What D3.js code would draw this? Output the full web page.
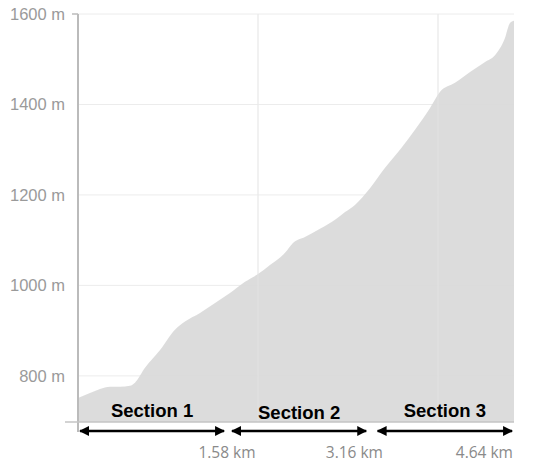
<!DOCTYPE html><html><head><meta charset="utf-8"><script src="https://cdn.jsdelivr.net/npm/d3@7"></script>
<style>body{margin:0;background:#fff}</style></head><body><svg id="c" width="550" height="465"></svg>
<script>
const distKm=[0,0.105,0.193,0.281,0.369,0.456,0.500,0.588,0.720,0.851,0.939,1.071,1.203,1.334,1.466,1.580,1.685,1.817,1.887,1.992,2.124,2.256,2.344,2.431,2.563,2.695,2.826,2.958,3.090,3.178,3.309,3.441,3.573,3.660,3.748,3.792,3.827];
const elevM=[751,762,771,776,776,778,785,818,857,902,920,939,961,983,1008,1025,1045,1072,1094,1107,1125,1145,1162,1178,1215,1260,1300,1344,1392,1428,1448,1472,1494,1509,1547,1580,1585];
const yTicks=[800,1000,1200,1400,1600];
const gridX=[1.58,3.16];
const xTickPos=[1.559,2.677,3.818];
const xTickLabels=["1.58 km","3.16 km","4.64 km"];
const sections=["Section 1","Section 2","Section 3"];
const sectionStart=[0.018,1.352,2.63];
const sectionEnd=[1.282,2.53,3.81];
const svg=d3.select("#c");
const x=d3.scaleLinear().domain([0,3.827]).range([78,514]);
const y=d3.scaleLinear().domain([698,1600]).range([422,14]);
const g=svg.append("g");
g.selectAll(".hg").data(yTicks).join("line").attr("x1",78).attr("x2",514).attr("y1",d=>y(d)).attr("y2",d=>y(d)).attr("stroke","#ececec");
g.selectAll(".vg").data(gridX).join("line").attr("x1",d=>x(d)).attr("x2",d=>x(d)).attr("y1",14).attr("y2",422).attr("stroke","#ececec");
const data=distKm.map((d,i)=>[d,elevM[i]]);
g.append("path").datum(data).attr("fill","#d9d9d9").attr("fill-opacity",0.92)
 .attr("d",d3.area().x(d=>x(d[0])).y0(422).y1(d=>y(d[1])).curve(d3.curveMonotoneX));
g.selectAll(".vg2").data(gridX).join("line").attr("x1",d=>x(d)).attr("x2",d=>x(d)).attr("y1",14).attr("y2",422).attr("stroke","#e8e8e8").attr("stroke-opacity",0.6);
g.append("line").attr("x1",78).attr("x2",78).attr("y1",14).attr("y2",432).attr("stroke","#bbb").attr("stroke-width",2);
g.append("line").attr("x1",72).attr("x2",78).attr("y1",14).attr("y2",14).attr("stroke","#bbb").attr("stroke-width",1.5);
g.append("line").attr("x1",65).attr("x2",514).attr("y1",422).attr("y2",422).attr("stroke","#c4c4c4").attr("stroke-width",1.5);
g.selectAll(".yl").data(yTicks).join("text").attr("x",65).attr("y",d=>y(d)+6).attr("text-anchor","end")
 .attr("font-family","Liberation Sans, Arial").attr("font-size",16.5).attr("fill","#9a9a9a").text(d=>d+" m");
g.selectAll(".xl").data(xTickPos).join("text").attr("x",d=>x(d)).attr("y",458).attr("text-anchor","end")
 .attr("font-family","Open Sans, sans-serif").attr("font-size",15.5).attr("fill","#8a8a8a").text((d,i)=>xTickLabels[i]);
const defs=svg.append("defs");
defs.append("marker").attr("id","ah").attr("viewBox","0 0 10 10").attr("refX",9).attr("refY",5).attr("markerWidth",4).attr("markerHeight",4).attr("orient","auto-start-reverse")
 .append("path").attr("d","M0,0L10,5L0,10z").attr("fill","#000");
sections.forEach((s,i)=>{
 const a=x(sectionStart[i]),b=x(sectionEnd[i]);
 g.append("line").attr("x1",a).attr("x2",b).attr("y1",431).attr("y2",431).attr("stroke","#000").attr("stroke-width",2.5)
  .attr("marker-start","url(#ah)").attr("marker-end","url(#ah)");
 g.append("text").attr("x",(a+b)/2).attr("y",[417,419,417][i]).attr("text-anchor","middle").attr("font-family","Liberation Sans, Arial")
  .attr("font-weight","bold").attr("font-size",18.5).attr("fill","#000").text(s);
});
</script></body></html>
